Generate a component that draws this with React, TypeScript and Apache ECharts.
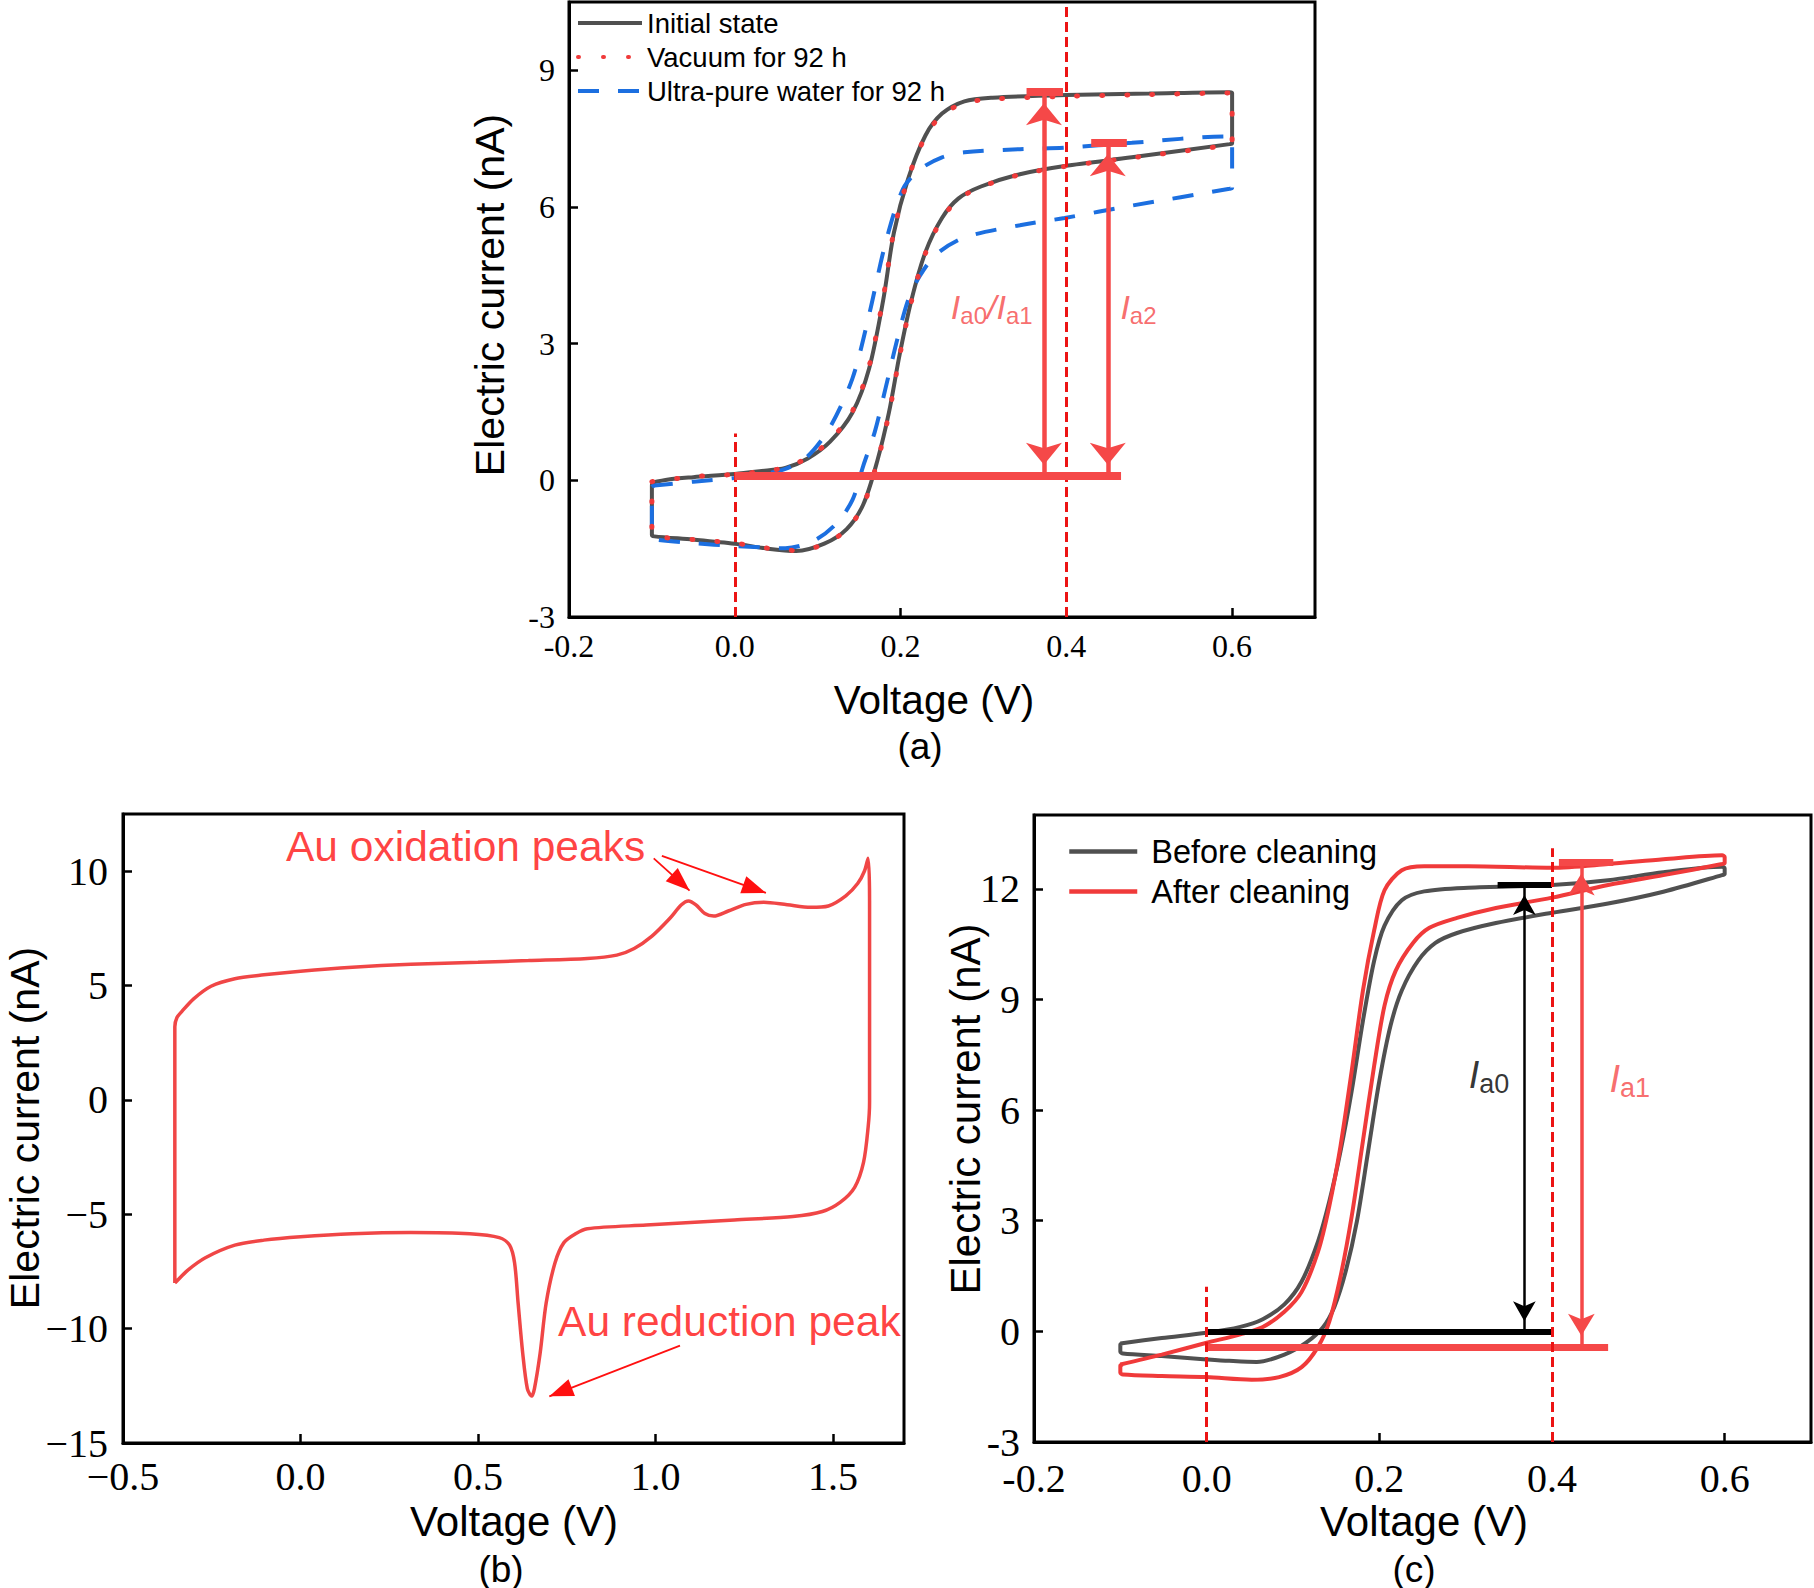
import React, { useEffect, useRef } from "react";
import * as echarts from "echarts";

type Pt = [number, number];

// ---------- Panel (a): cyclic voltammograms after storage ----------
const initialState: Pt[] = [
  [-0.1, -0.05], [-0.08, 0.02], [-0.05, 0.07], [0, 0.14], [0.03, 0.2], [0.061, 0.27],
  [0.088, 0.48], [0.115, 0.85], [0.142, 1.49], [0.162, 2.45], [0.179, 3.95], [0.192, 5.44],
  [0.209, 6.61], [0.23, 7.57], [0.25, 8.05], [0.277, 8.32], [0.311, 8.4], [0.4, 8.46],
  [0.5, 8.49], [0.597, 8.52], [0.6, 8.5], [0.6, 7.4], [0.597, 7.38], [0.479, 7.09], [0.398, 6.9],
  [0.344, 6.72], [0.297, 6.45], [0.27, 6.19], [0.25, 5.76], [0.23, 5.01], [0.213, 3.95],
  [0.199, 2.77], [0.186, 1.49], [0.172, 0.43], [0.155, -0.53], [0.135, -1.07], [0.108, -1.39],
  [0.074, -1.55], [0.04, -1.5], [0, -1.39], [-0.05, -1.3], [-0.097, -1.23], [-0.1, -1.2],
  [-0.1, -0.1], [-0.097, -0.05],
];
const vacuum92h: Pt[] = [
  [-0.1, -0.03], [-0.05, 0.08], [0, 0.13], [0.03, 0.19], [0.061, 0.28], [0.088, 0.5],
  [0.115, 0.88], [0.142, 1.52], [0.162, 2.5], [0.179, 4.0], [0.192, 5.47], [0.209, 6.62],
  [0.23, 7.55], [0.25, 8.02], [0.277, 8.28], [0.311, 8.37], [0.4, 8.43], [0.5, 8.47],
  [0.597, 8.5], [0.6, 8.48], [0.6, 7.38], [0.597, 7.36], [0.479, 7.08], [0.398, 6.89], [0.344, 6.71],
  [0.297, 6.44], [0.27, 6.17], [0.25, 5.74], [0.23, 4.98], [0.213, 3.92], [0.199, 2.74],
  [0.186, 1.46], [0.172, 0.41], [0.155, -0.55], [0.135, -1.08], [0.108, -1.4], [0.074, -1.54],
  [0.04, -1.49], [0, -1.38], [-0.05, -1.3], [-0.097, -1.24], [-0.1, -1.21], [-0.1, -0.06],
  [-0.097, -0.03],
];
const water92h: Pt[] = [
  [-0.1, -0.12], [-0.05, -0.03], [0, 0.05], [0.03, 0.12], [0.061, 0.25], [0.088, 0.53],
  [0.115, 1.17], [0.142, 2.24], [0.162, 3.63], [0.182, 5.22], [0.203, 6.4], [0.223, 6.82],
  [0.25, 7.09], [0.277, 7.2], [0.344, 7.27], [0.398, 7.3], [0.479, 7.41], [0.597, 7.55],
  [0.6, 7.52], [0.6, 6.42], [0.597, 6.4], [0.479, 6.03], [0.398, 5.76], [0.344, 5.6], [0.277, 5.33],
  [0.243, 4.96], [0.223, 4.48], [0.209, 3.95], [0.196, 3.09], [0.182, 2.03], [0.169, 1.07],
  [0.155, 0.32], [0.142, -0.43], [0.122, -0.96], [0.095, -1.33], [0.061, -1.49], [0, -1.44],
  [-0.05, -1.38], [-0.097, -1.3], [-0.1, -1.27], [-0.1, -0.15], [-0.097, -0.12],
];
// reference lines, measured currents and baselines in (a)
const dashedA = [[0, -3, 0, 1.03], [0.4, -3, 0.4, 10.5]];
const barsA = [[0, 0.1, 0.466, 0.1], [0.352, 8.52, 0.396, 8.52], [0.43, 7.4, 0.473, 7.4]];
const arrowsA = [[0.373, 0.1, 0.373, 8.52], [0.45, 0.1, 0.45, 7.4]];

// ---------- Panel (b): gold electrode CV ----------
const goldCv: Pt[] = [
  [-0.354, -8.0], [-0.354, -4.0], [-0.354, 0], [-0.354, 3.2], [-0.348, 3.6], [-0.334, 3.87],
  [-0.301, 4.42], [-0.252, 4.97], [-0.185, 5.3], [-0.103, 5.47], [0, 5.63], [0.146, 5.8],
  [0.311, 5.93], [0.5, 6.02], [0.642, 6.09], [0.808, 6.18], [0.891, 6.33], [0.94, 6.62],
  [0.99, 7.16], [1.04, 7.93], [1.073, 8.53], [1.093, 8.7], [1.114, 8.53], [1.139, 8.15],
  [1.164, 8.04], [1.205, 8.26], [1.255, 8.55], [1.305, 8.64], [1.371, 8.53], [1.437, 8.42],
  [1.487, 8.48], [1.536, 8.92], [1.57, 9.47], [1.589, 10.02], [1.599, 10.57], [1.603, 8.7],
  [1.603, 4], [1.603, -0.1], [1.599, -1.19], [1.586, -2.73], [1.561, -3.82], [1.52, -4.48],
  [1.47, -4.88], [1.387, -5.1], [1.222, -5.25], [0.974, -5.47], [0.808, -5.63], [0.775, -5.85],
  [0.742, -6.24], [0.717, -7.12], [0.692, -8.88], [0.675, -11.08], [0.659, -12.62],
  [0.651, -12.95], [0.639, -12.62], [0.626, -11.08], [0.613, -8.88], [0.603, -7.12],
  [0.589, -6.35], [0.56, -6.02], [0.477, -5.85], [0.311, -5.8], [0.146, -5.85], [0, -5.98],
  [-0.103, -6.13], [-0.185, -6.35], [-0.268, -6.9], [-0.318, -7.45], [-0.351, -7.96],
  [-0.354, -8.0],
];
const calloutsB = [
  [0.995, 10.56, 1.096, 9.15],
  [1.018, 10.67, 1.311, 9.05],
  [1.069, -10.74, 0.701, -12.96],
];

// ---------- Panel (c): before / after cleaning ----------
const beforeCleaning: Pt[] = [
  [-0.1, -0.33], [-0.052, -0.18], [0, -0.04], [0.039, 0.12], [0.065, 0.33], [0.09, 0.73],
  [0.11, 1.35], [0.129, 2.44], [0.142, 3.52], [0.155, 4.88], [0.168, 6.52], [0.181, 8.42],
  [0.194, 10.05], [0.206, 11.0], [0.226, 11.69], [0.252, 11.93], [0.303, 12.03], [0.4, 12.1],
  [0.465, 12.23], [0.529, 12.45], [0.597, 12.6], [0.6, 12.55], [0.6, 12.4], [0.597, 12.37],
  [0.529, 11.92], [0.465, 11.6], [0.4, 11.35], [0.335, 11.07], [0.29, 10.8], [0.265, 10.53],
  [0.245, 10.05], [0.226, 9.24], [0.213, 8.29], [0.2, 6.79], [0.187, 4.88], [0.174, 2.98],
  [0.161, 1.62], [0.148, 0.67], [0.135, 0.12], [0.116, -0.29], [0.09, -0.63], [0.058, -0.83],
  [0.026, -0.8], [0, -0.76], [-0.052, -0.67], [-0.097, -0.6], [-0.1, -0.55], [-0.1, -0.36],
  [-0.097, -0.33],
];
const afterCleaning: Pt[] = [
  [-0.1, -0.9], [-0.052, -0.63], [0, -0.31], [0.039, -0.08], [0.065, 0.12], [0.09, 0.53],
  [0.11, 1.07], [0.129, 2.16], [0.142, 3.39], [0.155, 5.02], [0.168, 7.06], [0.181, 9.24],
  [0.194, 10.87], [0.206, 11.96], [0.226, 12.5], [0.252, 12.61], [0.303, 12.61], [0.4, 12.57],
  [0.465, 12.67], [0.529, 12.8], [0.597, 12.91], [0.6, 12.86], [0.6, 12.7], [0.597, 12.67],
  [0.529, 12.37], [0.465, 12.1], [0.4, 11.76], [0.335, 11.48], [0.29, 11.21], [0.258, 10.94],
  [0.239, 10.53], [0.219, 9.78], [0.206, 8.83], [0.194, 7.2], [0.181, 5.16], [0.168, 3.12],
  [0.155, 1.48], [0.142, 0.26], [0.129, -0.42], [0.11, -0.97], [0.084, -1.24], [0.052, -1.31],
  [0, -1.24], [-0.052, -1.21], [-0.097, -1.17], [-0.1, -1.12], [-0.1, -0.93], [-0.097, -0.9],
];
const dashedC = [[0, -3, 0, 1.21], [0.4, -3, 0.4, 13.1]];
const blackBarsC = [[0, 0, 0.4, 0], [0.337, 12.1, 0.4, 12.1]];
const redBarsC = [[0, -0.42, 0.465, -0.42], [0.408, 12.71, 0.471, 12.71]];
const blackArrowC = [[0.368, 0, 0.368, 12.1]];
const redArrowC = [[0.434, -0.42, 0.434, 12.71]];

const SANS = "'Liberation Sans', Arial, Helvetica, sans-serif";
const SERIF = "'Liberation Serif', 'Times New Roman', serif";

const GRAY = "#505050";
const RED = "#f03a3a";
const ANNO_RED = "#f54848";
const DASH_RED = "#ec1414";
const BLUE = "#1c6fe0";
const TEXT_RED = "#ff1010";

const minus = (s: string) => s.replace("-", "\u2212");

function axis(
  grid: number,
  min: number,
  max: number,
  interval: number,
  fontSize: number,
  margin: number,
  fmt: (v: number) => string,
  lineHeight?: number
) {
  return {
    type: "value",
    gridIndex: grid,
    min,
    max,
    interval,
    splitLine: { show: false },
    axisLine: { show: true, onZero: false, lineStyle: { color: "#000", width: 3 } },
    axisTick: { show: true, inside: true, length: 9, lineStyle: { color: "#000", width: 2.5 } },
    axisLabel: {
      color: "#000",
      fontFamily: SERIF,
      fontSize,
      margin,
      lineHeight,
      formatter: fmt,
      showMinLabel: true,
      showMaxLabel: false,
    },
  };
}

function curve(name: string, idx: number, data: Pt[], color: string, lineStyle: any) {
  return {
    name,
    type: "line",
    xAxisIndex: idx,
    yAxisIndex: idx,
    data,
    symbol: "none",
    showSymbol: false,
    smooth: 0.3,
    silent: true,
    itemStyle: { color },
    lineStyle: { color, ...lineStyle },
    emphasis: { disabled: true },
  };
}

function marks(
  idx: number,
  segs: number[][],
  lineStyle: any,
  symbol: any = "none",
  symbolSize: any = 0,
  z = 5
) {
  return {
    type: "line",
    xAxisIndex: idx,
    yAxisIndex: idx,
    data: [],
    silent: true,
    z,
    markLine: {
      silent: true,
      animation: false,
      symbol,
      symbolSize,
      symbolOffset: [[0, "50%"], [0, "50%"]],
      label: { show: false },
      emphasis: { disabled: true },
      lineStyle,
      data: segs.map(([x1, y1, x2, y2]) => [{ coord: [x1, y1] }, { coord: [x2, y2] }]),
    },
  };
}

function tag(idx: number, pos: Pt, formatter: string, color: string, fontSize: number, rich?: any) {
  return {
    type: "scatter",
    xAxisIndex: idx,
    yAxisIndex: idx,
    data: [pos],
    symbolSize: 1,
    itemStyle: { color: "rgba(0,0,0,0)" },
    silent: true,
    z: 6,
    label: {
      show: true,
      position: "inside",
      formatter,
      color,
      fontFamily: SANS,
      fontSize,
      rich,
    },
  };
}

function subRich(color: string, big: number, small: number, drop: number) {
  return {
    i: { fontStyle: "italic", fontSize: big, fontFamily: SANS, color, lineHeight: big },
    s: { fontSize: small, fontFamily: SANS, color, lineHeight: small, padding: [drop, 0, 0, 0] },
  };
}

function title(x: number, y: number, text: string, size: number, vertical = false) {
  return {
    type: "text",
    x,
    y,
    rotation: vertical ? Math.PI / 2 : 0,
    silent: true,
    style: {
      text,
      fontFamily: SANS,
      fontSize: size,
      fill: "#000",
      align: "center",
      verticalAlign: "middle",
    },
  };
}

export default function App() {
  const ref = useRef<HTMLDivElement>(null);

  useEffect(() => {
    if (!ref.current) return;
    const chart = echarts.init(ref.current, undefined, { renderer: "svg" });

    const fmt1 = (v: number) => v.toFixed(1);
    const fmt0 = (v: number) => String(Math.round(v));

    const option: any = {
      animation: false,
      backgroundColor: "#fff",
      grid: [
        { left: 569, top: 2, width: 746, height: 615, show: true, borderColor: "#000", borderWidth: 3, containLabel: false },
        { left: 123, top: 814, width: 781, height: 629, show: true, borderColor: "#000", borderWidth: 3, containLabel: false },
        { left: 1034, top: 815, width: 777, height: 627, show: true, borderColor: "#000", borderWidth: 3, containLabel: false },
      ],
      xAxis: [
        axis(0, -0.2, 0.7, 0.2, 32, 13, fmt1),
        axis(1, -0.5, 1.7, 0.5, 40, 13, (v) => minus(fmt1(v))),
        axis(2, -0.2, 0.7, 0.2, 40, 20, fmt1, 32),
      ],
      yAxis: [
        axis(0, -3, 10.5, 3, 32, 14, fmt0, 26),
        axis(1, -15, 12.5, 5, 40, 15, (v) => minus(fmt0(v))),
        axis(2, -3, 14, 3, 40, 14, fmt0, 28),
      ],
      legend: [
        {
          left: 576,
          top: 9,
          orient: "vertical",
          padding: 0,
          itemWidth: 64,
          itemHeight: 14,
          itemGap: 6,
          selectedMode: false,
          itemStyle: { opacity: 0 },
          lineStyle: { width: 4 },
          data: ["Initial state", "Vacuum for 92 h", "Ultra-pure water for 92 h"],
          textStyle: { fontFamily: SANS, fontSize: 27.5, color: "#000" },
        },
        {
          left: 1067,
          top: 835,
          orient: "vertical",
          padding: 0,
          itemWidth: 68,
          itemHeight: 14,
          itemGap: 7,
          selectedMode: false,
          itemStyle: { opacity: 0 },
          lineStyle: { width: 4.5 },
          data: ["Before cleaning", "After cleaning"],
          textStyle: { fontFamily: SANS, fontSize: 32.5, color: "#000", padding: [0, 0, 0, 9] },
        },
      ],
      series: [
        // (a)
        curve("Initial state", 0, initialState, GRAY, { width: 4 }),
        curve("Ultra-pure water for 92 h", 0, water92h, BLUE, { width: 4, type: [21, 19] }),
        curve("Vacuum for 92 h", 0, vacuum92h, RED, { width: 5, type: [1, 24], cap: "round" }),
        marks(0, dashedA, { color: DASH_RED, width: 3, type: [10, 5] }),
        marks(0, barsA, { color: ANNO_RED, width: 8, type: "solid" }),
        marks(0, arrowsA, { color: ANNO_RED, width: 4.5, type: "solid" }, ["arrow", "arrow"], [27, 22]),
        tag(0, [0.31, 3.8], "{i|I}{s|a0}{i|/I}{s|a1}", ANNO_RED, 34, subRich(ANNO_RED, 34, 24, 16)),
        tag(0, [0.487, 3.8], "{i|I}{s|a2}", ANNO_RED, 34, subRich(ANNO_RED, 34, 24, 16)),

        // (b)
        curve("Au electrode", 1, goldCv, "#f04646", { width: 3.5 }),
        marks(1, calloutsB, { color: TEXT_RED, width: 1.8, type: "solid" }, ["none", "triangle"], [18, 24]),
        tag(1, [0.465, 11.06], "Au oxidation peaks", TEXT_RED, 42.5),
        tag(1, [1.208, -9.67], "Au reduction peak", TEXT_RED, 42.5),

        // (c)
        curve("Before cleaning", 2, beforeCleaning, GRAY, { width: 4 }),
        curve("After cleaning", 2, afterCleaning, RED, { width: 4 }),
        marks(2, redBarsC, { color: ANNO_RED, width: 7, type: "solid" }),
        marks(2, blackBarsC, { color: "#000", width: 6, type: "solid" }),
        marks(2, dashedC, { color: DASH_RED, width: 3, type: [10, 5] }),
        marks(2, blackArrowC, { color: "#000", width: 2.5, type: "solid" }, ["arrow", "arrow"], [17, 20]),
        marks(2, redArrowC, { color: ANNO_RED, width: 3.5, type: "solid" }, ["arrow", "arrow"], [20, 22]),
        tag(2, [0.327, 6.95], "{i|I}{s|a0}", "#000", 38, subRich("#000", 38, 27, 18)),
        tag(2, [0.49, 6.85], "{i|I}{s|a1}", ANNO_RED, 38, subRich(ANNO_RED, 38, 27, 18)),
      ],
      graphic: [
        title(934, 700, "Voltage (V)", 40.5),
        title(490, 295, "Electric current (nA)", 41, true),
        title(920, 746, "(a)", 37),
        title(514, 1521, "Voltage (V)", 42),
        title(25, 1128, "Electric current (nA)", 41, true),
        title(501, 1569, "(b)", 37),
        title(1424, 1521, "Voltage (V)", 42),
        title(965, 1109, "Electric current (nA)", 42, true),
        title(1414, 1569, "(c)", 37),
      ],
    };

    chart.setOption(option);
    return () => chart.dispose();
  }, []);

  return (
    <div
      ref={ref}
      style={{ position: "absolute", left: 0, top: 0, width: 1814, height: 1588, background: "#fff" }}
    />
  );
}
